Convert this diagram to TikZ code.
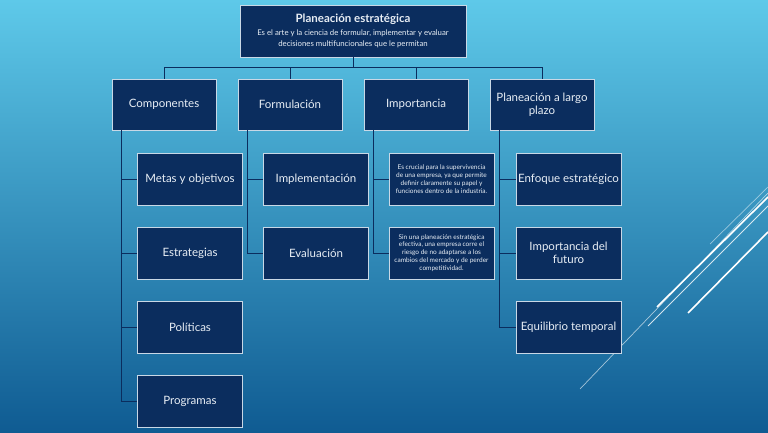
\documentclass[tikz,border=0pt]{standalone}
\usepackage{fontspec}
\setmainfont{Lato}
\usetikzlibrary{positioning}
\definecolor{navy}{HTML}{0B2D5E}
\definecolor{rim}{HTML}{C9D8E6}
\definecolor{ink}{HTML}{E8EEF5}
\definecolor{skytop}{HTML}{5EC9E9}
\definecolor{skybot}{HTML}{0F5B92}

\begin{document}
\begin{tikzpicture}[x=1pt,y=-1pt,
 box/.style={draw=rim,line width=0.8pt,fill=navy,text=ink,align=center,
  minimum width=104pt,minimum height=51pt,inner sep=2pt,font=\fontsize{11.5}{13}\selectfont},
 kid/.style={box,minimum width=105pt,minimum height=52pt},
 note/.style={kid,font=\fontsize{6.5}{7.9}\selectfont},
 link/.style={draw=navy,line width=1pt}]
\shade[top color=skytop,bottom color=skybot] (0,0) rectangle (768,433);
\useasboundingbox (0,0) rectangle (768,433);
% decoracion
\draw[white,opacity=0.6,line width=0.7pt] (580,389)--(768,193);
\draw[white,opacity=0.5,line width=0.7pt] (710,244)--(768,187);
\draw[white,line width=1.6pt] (657,307)--(768,197);
\draw[white,opacity=0.8,line width=0.8pt] (648,326)--(768,206);
\draw[white,line width=1.6pt] (688,313)--(768,232);
% nodos
\node[box,minimum width=226pt,minimum height=52pt,font=\fontsize{7.8}{11}\selectfont] (plan) at (353,31)
 {\fontsize{11.5}{12}\selectfont\bfseries Planeación estratégica\\[2pt]
  \mdseries\fontsize{7.8}{11}\selectfont Es el arte y la ciencia de formular, implementar y evaluar\\decisiones multifuncionales que le permitan};
\node[box] (comp) at (164,104.5) {Componentes};
\node[box] (form) at (290,104.5) {Formulación};
\node[box] (impo) at (416,104.5) {Importancia};
\node[box] (larg) at (542,104.5) {Planeación a largo\\plazo};
\node[kid] (meta) at (190,179) {Metas y objetivos};
\node[kid] (estr) at (190,253) {Estrategias};
\node[kid] (poli) at (190,327) {Políticas};
\node[kid] (prog) at (190,401) {Programas};
\node[kid] (impl) at (316,179) {Implementación};
\node[kid] (eval) at (316,253) {Evaluación};
\node[note] (supe) at (441.5,179) {Es crucial para la supervivencia\\de una empresa, ya que permite\\definir claramente su papel y\\funciones dentro de la industria.};
\node[note] (ries) at (441.5,253) {Sin una planeación estratégica\\efectiva, una empresa corre el\\riesgo de no adaptarse a los\\cambios del mercado y de perder\\competitividad.};
\node[kid] (enfo) at (568.5,179) {Enfoque estratégico};
\node[kid] (futu) at (568.5,253) {Importancia del\\futuro};
\node[kid] (equi) at (568.5,327) {Equilibrio temporal};
% conectores
\coordinate (bus) at (353,68);
\foreach \n in {comp,form,impo,larg}
 \draw[link] (plan.south) -- (bus) -| (\n.north);
\foreach \n in {meta,estr,poli,prog}
 \draw[link] ([xshift=10pt]comp.south west) |- (\n.west);
\foreach \n in {impl,eval}
 \draw[link] ([xshift=10pt]form.south west) |- (\n.west);
\foreach \n in {supe,ries}
 \draw[link] ([xshift=10pt]impo.south west) |- (\n.west);
\foreach \n in {enfo,futu,equi}
 \draw[link] ([xshift=10pt]larg.south west) |- (\n.west);
\end{tikzpicture}
\end{document}
